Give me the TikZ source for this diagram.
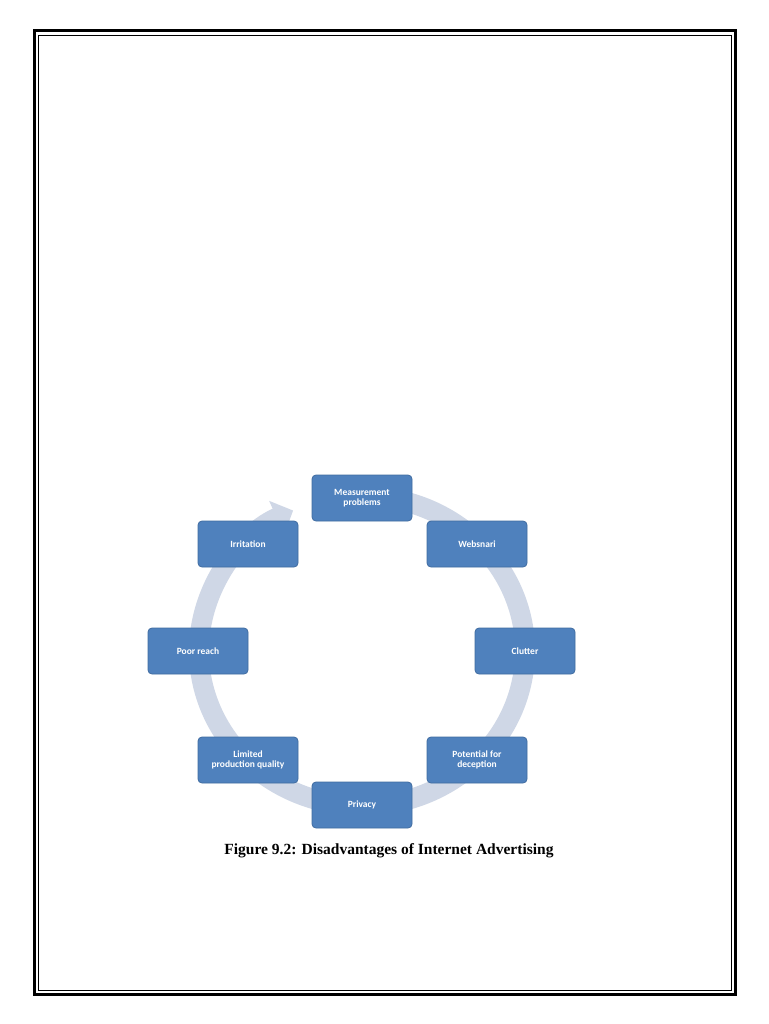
\documentclass[tikz,border=0pt]{standalone}
\usepackage{fontspec}
\setmainfont{Liberation Serif}
\newfontfamily\boxfont{Carlito}
\usetikzlibrary{arrows.meta}
\definecolor{boxblue}{RGB}{79,129,189}
\definecolor{boxedge}{RGB}{64,108,160}
\definecolor{ringc}{RGB}{207,215,230}
\begin{document}
\begin{tikzpicture}[x=1pt,y=-1pt,
  item/.style={draw=boxedge,line width=0.8pt,fill=boxblue,rounded corners=4pt,minimum width=100pt,minimum height=46pt,align=center,text=white,font=\boxfont\bfseries\fontsize{9.5}{10}\selectfont,inner sep=1pt}]
\useasboundingbox (0,0) rectangle (768,1024);
\fill[white] (0,0) rectangle (768,1024);
\draw[line width=3pt] (34,31) rectangle (735,994);
\draw[line width=0.6pt] (38,35) rectangle (731,990);
\draw[ringc,line width=20pt,-{Triangle[width=36pt,length=18pt]}] (362,651) ++(-80:163 and 155) arc[start angle=-80,end angle=245,x radius=163,y radius=155];
\node[item] (m) at (362,498) {Measurement\\problems};
\node[item] (w) at (477,544) {Websnari};
\node[item] (c) at (525,651) {Clutter};
\node[item] (p) at (477,760) {Potential for\\deception};
\node[item] (pr) at (362,805) {Privacy};
\node[item] (l) at (248,760) {Limited\\production quality};
\node[item] (r) at (198,651) {Poor reach};
\node[item] (i) at (248,544) {Irritation};
\node[font=\bfseries\fontsize{15.5}{18}\selectfont] (cap) at (389,851) {Figure 9.2: Disadvantages of Internet Advertising};
\end{tikzpicture}
\end{document}
